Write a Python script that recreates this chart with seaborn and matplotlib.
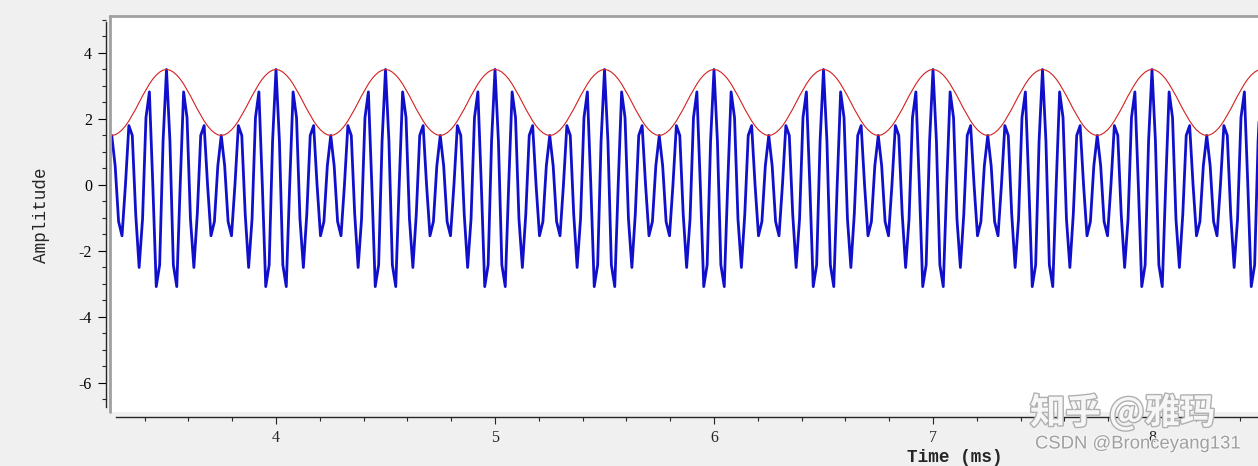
import numpy as np
import pandas as pd
import matplotlib
matplotlib.use("Agg")
import matplotlib.pyplot as plt
from matplotlib.lines import Line2D
from matplotlib.ticker import MultipleLocator
import matplotlib.patheffects as pe
import seaborn as sns

# ---- data (one 0.5 ms period, 64 kHz sampling, starting at t = 3.25 ms) ----
t_start_ms = 3.25
sample_step_ms = 1 / 64
blue_period = [1.5, 0.58, -1.11, -1.54, 0.0, 1.8, 1.5, -0.88, -2.5, -1.03, 2.04, 2.82,
               0.0, -3.08, -2.42, 1.33, 3.5, 1.33, -2.42, -3.08, 0.0, 2.82, 2.04, -1.03,
               -2.5, -0.88, 1.5, 1.8, 0.0, -1.54, -1.11, 0.58]
red_period = [1.5, 1.52, 1.58, 1.67, 1.79, 1.94, 2.12, 2.3, 2.5, 2.7, 2.88, 3.06,
              3.21, 3.33, 3.42, 3.48, 3.5, 3.48, 3.42, 3.33, 3.21, 3.06, 2.88, 2.7,
              2.5, 2.3, 2.12, 1.94, 1.79, 1.67, 1.58, 1.52]
n_periods = 11
n_samples = 340

x_ticks = [4, 5, 6, 7, 8]
y_ticks = [-6, -4, -2, 0, 2, 4]
x_label = "Time (ms)"
y_label = "Amplitude"

# ---- build the series (the signal repeats exactly every period) ----
blue = np.tile(blue_period, n_periods)[:n_samples]
red = np.tile(red_period, n_periods)[:n_samples]
t = t_start_ms + np.arange(n_samples) * sample_step_ms
df = pd.DataFrame({"t": t, "signal": blue, "envelope": red})

sns.set_style("ticks")
plt.rcParams["font.family"] = ["Liberation Serif", "DejaVu Sans"]
plt.rcParams["axes.unicode_minus"] = False

W, H = 1258, 466
fig = plt.figure(figsize=(W / 100, H / 100), dpi=100, facecolor="#f0f0f0")
ax = fig.add_axes([110 / W, (H - 412) / H, (W - 110) / W, (412 - 16) / H])
ax.set_facecolor("white")

sns.lineplot(data=df, x="t", y="signal", ax=ax, color="#1010cc", linewidth=2.0,
             estimator=None, sort=False)
sns.lineplot(data=df, x="t", y="envelope", ax=ax, color="#d42020", linewidth=0.8,
             estimator=None, sort=False)

ax.set_xlim(3.242, 8.484)
ax.set_ylim(-6.879, 5.12)

ax.set_xticks(x_ticks)
ax.set_yticks(y_ticks)
ax.xaxis.set_minor_locator(MultipleLocator(0.2))
ax.yaxis.set_minor_locator(MultipleLocator(0.5))
ax.tick_params(axis="y", which="major", direction="out", length=5.8, width=0.8,
               pad=4, labelsize=11.5, colors="black")
ax.tick_params(axis="y", which="minor", direction="out", length=3.0, width=0.8)
ax.tick_params(axis="x", which="major", direction="out", length=5.0, width=0.8,
               pad=4.5, labelsize=11.5)
ax.tick_params(axis="x", which="minor", direction="out", length=2.6, width=0.8)

# spines: Qwt-like scales detached from the canvas
ax.spines["right"].set_visible(False)
ax.spines["top"].set_color("#a0a0a0")
ax.spines["top"].set_linewidth(2.0)
ax.spines["left"].set_position(("outward", 3.2))
ax.spines["left"].set_bounds(-6.73, 4.95)
ax.spines["left"].set_linewidth(1.0)
ax.spines["bottom"].set_position(("outward", 3.6))
ax.spines["bottom"].set_bounds(3.27, 8.484)
ax.spines["bottom"].set_linewidth(1.0)
ax.add_line(Line2D([0, 0], [0, 1], transform=ax.transAxes, color="#a0a0a0",
                   linewidth=2.0, clip_on=False))

ax.set_xlabel(x_label, family=["Liberation Mono", "DejaVu Sans Mono"], fontweight="bold",
              fontsize=12.7, va="center", ha="center")
ax.xaxis.set_label_coords((955 - 110) / (W - 110), (412 - 458) / (412 - 16))
ax.set_ylabel(y_label, family=["Liberation Mono", "DejaVu Sans Mono"], fontsize=12.7,
              va="center", ha="center")
ax.yaxis.set_label_coords((41 - 110) / (W - 110), (412 - 215) / (412 - 16))

# watermark texts
fig.text(1030 / W, 1 - 412 / H, "知乎 @雅玛", family=["Noto Sans CJK SC", "DejaVu Sans"],
         fontsize=25.5, color="#f6f6f6", va="center", ha="left", fontweight="bold",
         path_effects=[pe.withStroke(linewidth=2.0, foreground="#b0b0b0")])
fig.text(1035 / W, 1 - 444 / H, "CSDN @Bronceyang131", family=["Liberation Sans", "DejaVu Sans"],
         fontsize=13.3, color="#a0a0a0", va="center", ha="left",
         path_effects=[pe.withStroke(linewidth=1.5, foreground="#f8f8f8")])

fig.savefig("out.png", dpi=100, facecolor=fig.get_facecolor())
